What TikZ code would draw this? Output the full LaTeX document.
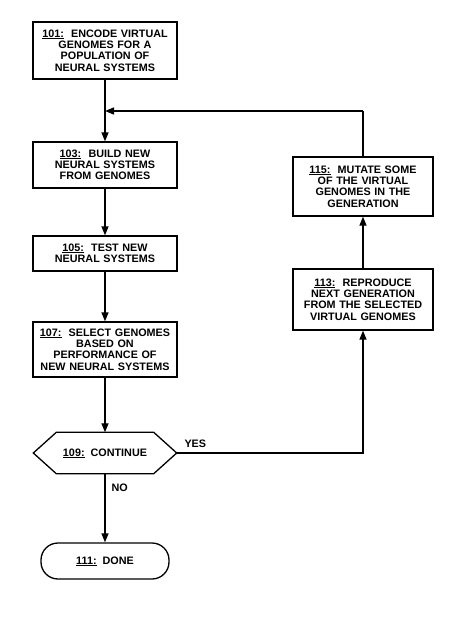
\documentclass[tikz,border=0pt]{standalone}
\usepackage{fontspec}
\setmainfont{Liberation Sans}
\usetikzlibrary{arrows.meta,calc}
\newsavebox\ulbox
\newcommand\ulnum[1]{\sbox\ulbox{#1}\rlap{\rule[-1.1pt]{\wd\ulbox}{0.55pt}}\usebox\ulbox}
\begin{document}
\begin{tikzpicture}[x=1pt,y=-1pt,
  every node/.style={font=\fontsize{10.8}{11.2}\selectfont\bfseries, align=center, inner sep=0pt},
  box/.style={draw, line width=1.3pt, minimum width=#1, text width=#1-4pt},
  line/.style={line width=1.3pt},
  arr/.style={line width=1.3pt, -{Triangle[length=9pt,width=7pt]}},
  lab/.style={font=\fontsize{10.8}{11.2}\selectfont\bfseries}
]
\useasboundingbox (0,0) rectangle (474,618);
\node[box=144pt, minimum height=57pt] (n101) at (105,50.5) {\ulnum{101:}\ \ ENCODE VIRTUAL\\GENOMES FOR A\\POPULATION OF\\NEURAL SYSTEMS};
\node[box=144pt, minimum height=46pt] (n103) at (105,165) {\ulnum{103:}\ \ BUILD NEW\\NEURAL SYSTEMS\\FROM GENOMES};
\node[box=144pt, minimum height=35pt] (n105) at (105,253.5) {\ulnum{105:}\ \ TEST NEW\\NEURAL SYSTEMS};
\node[box=144pt, minimum height=55pt] (n107) at (105,349.5) {\ulnum{107:}\ \ SELECT GENOMES\\BASED ON\\PERFORMANCE OF\\NEW NEURAL SYSTEMS};
\node[minimum width=143pt, minimum height=41pt] (n109) at (105,453) {\ulnum{109:}\ \ CONTINUE};
\draw[line] (n109.west) -- ([xshift=23pt]n109.north west) -- ([xshift=-23pt]n109.north east) -- (n109.east) -- ([xshift=-23pt]n109.south east) -- ([xshift=23pt]n109.south west) -- cycle;
\node[draw, line width=1.3pt, minimum width=128pt, minimum height=36pt, rounded corners=17pt] (n111) at (105,561) {\ulnum{111:}\ \ DONE};
\node[box=140pt, minimum height=61pt] (n113) at (363,299.5) {\ulnum{113:}\ \ REPRODUCE\\NEXT GENERATION\\FROM THE SELECTED\\VIRTUAL GENOMES};
\node[box=140pt, minimum height=59pt] (n115) at (363,186.5) {\ulnum{115:}\ \ MUTATE SOME\\OF THE VIRTUAL\\GENOMES IN THE\\GENERATION};
\coordinate (j) at (105,111);
\coordinate (top) at (363,111);
\draw[arr] (n101.south) -- (n103.north);
\draw[line] (n115.north) -- (top);
\draw[arr] (top) -- (j);
\draw[arr] (n103.south) -- (n105.north);
\draw[arr] (n105.south) -- (n107.north);
\draw[arr] (n107.south) -- (n109.north);
\draw[arr] (n109.south) -- node[lab, right=6pt, pos=0.2] (no) {NO} (n111.north);
\draw[arr] (n109.east) -| node[lab, pos=0.05, above=5pt] (yes) {YES} (n113.south);
\draw[arr] (n113.north) -- (n115.south);
\end{tikzpicture}
\end{document}
